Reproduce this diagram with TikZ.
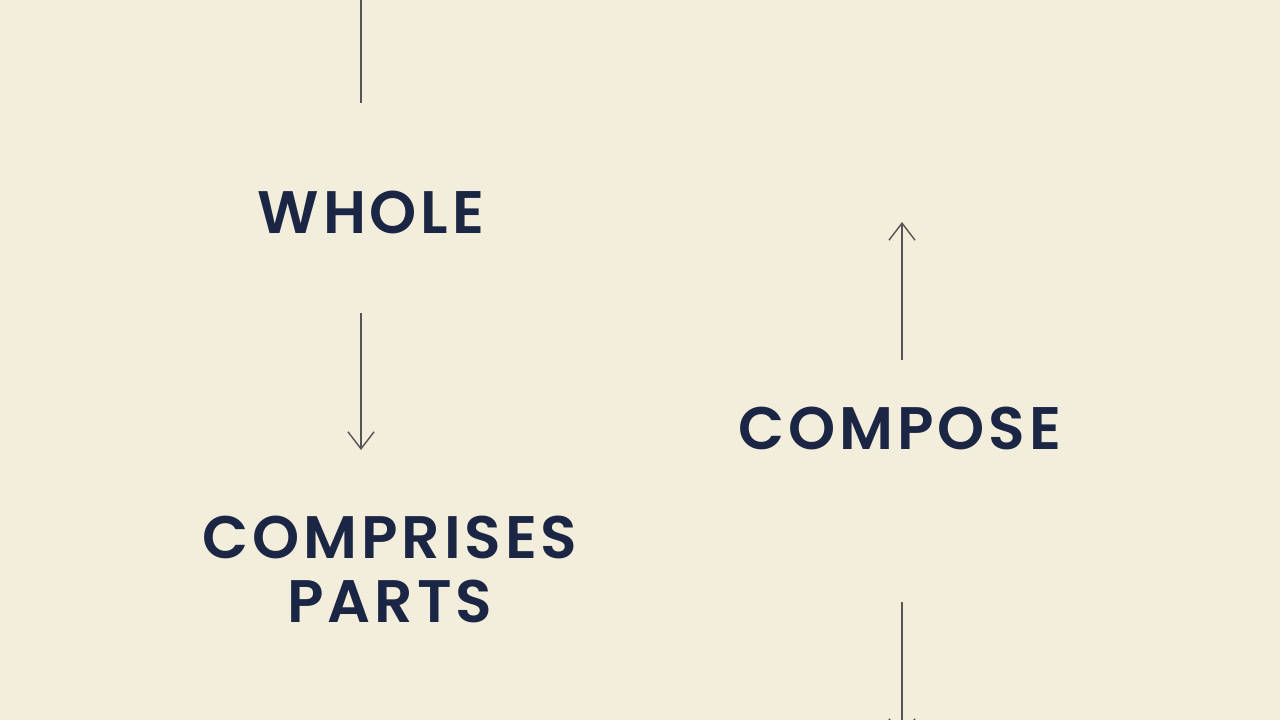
\documentclass[tikz,border=0pt]{standalone}
\usepackage{fontspec}
\setmainfont{Poppins}[BoldFont={Poppins SemiBold}, BoldFeatures={LetterSpace=6.5}]
\usetikzlibrary{arrows.meta}
\definecolor{bgc}{HTML}{F3EDDB}
\definecolor{inkc}{HTML}{1B2645}
\definecolor{linec}{HTML}{555555}
\tikzset{
  lbl/.style={text=inkc, font=\fontsize{60}{64}\selectfont\bfseries, align=center, inner sep=0pt},
  conn/.style={draw=linec, line width=1.4pt},
  arr/.style={conn, -{Straight Barb[length=17pt, width=26pt, line width=1.4pt]}}
}
\begin{document}
\begin{tikzpicture}[x=1pt,y=1pt]
\fill[bgc] (0,0) rectangle (1280,720);
\useasboundingbox (0,0) rectangle (1280,720);
\node[lbl] (whole) at (371,508) {WHOLE};
\node[lbl] (parts) at (390,151) {COMPRISES\\PARTS};
\node[lbl] (compose) at (900,292) {COMPOSE};
\coordinate (t0) at (361,720);
\coordinate (t1) at (361,617);
\coordinate (a0) at (361,407);
\coordinate (a1) at (361,270);
\coordinate (b0) at (902,360);
\coordinate (b1) at (902,498);
\coordinate (c0) at (902,118);
\coordinate (c1) at (902,-17);
\begin{scope}
\clip (0,0) rectangle (1280,720);
\draw[conn] (t0) -- (t1);
\draw[arr] (a0) -- (a1);
\draw[arr] (b0) -- (b1);
\draw[arr] (c0) -- (c1);
\end{scope}
\end{tikzpicture}
\end{document}
